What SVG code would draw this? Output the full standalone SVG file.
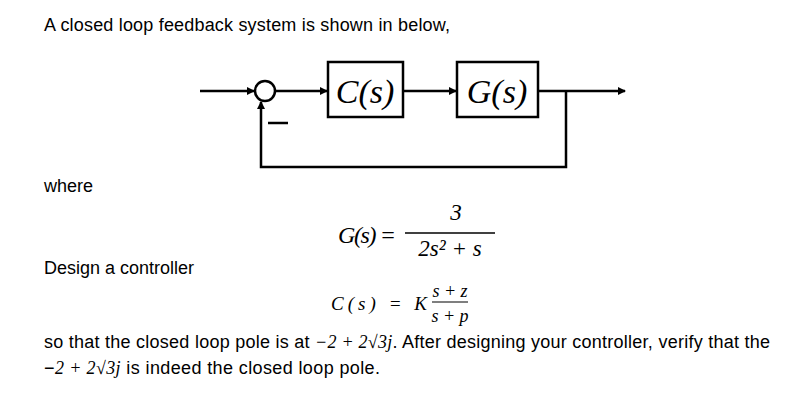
<svg xmlns="http://www.w3.org/2000/svg" width="797" height="413" viewBox="0 0 797 413">
<style>
.t{font-family:"Liberation Sans",Arial,sans-serif;font-size:18px;fill:#000}
.m{font-family:"Liberation Serif","Times New Roman",serif;font-style:italic;fill:#000}
.b{fill:#fff;stroke:#000;stroke-width:2.5}
.l{fill:none;stroke:#000;stroke-width:2.5}
</style>
<defs><marker id="a" markerWidth="8" markerHeight="8" refX="7" refY="4" orient="auto" markerUnits="userSpaceOnUse"><path d="M0,0L8,4L0,8z"/></marker></defs>
<rect width="797" height="413" fill="#fff"/>
<text class="t" x="44" y="31" textLength="406">A closed loop feedback system is shown in below,</text>
<g id="sum"><circle cx="265" cy="91" r="10" class="b"/></g>
<g id="C"><rect x="328" y="62" width="75" height="55" class="b"/><text class="m" x="365" y="103" font-size="34" text-anchor="middle">C(s)</text></g>
<g id="G"><rect x="457" y="62" width="81" height="55" class="b"/><text class="m" x="497" y="103" font-size="34" text-anchor="middle">G(s)</text></g>
<g id="connectors">
<path class="l" d="M200,91H254" marker-end="url(#a)"/>
<path class="l" d="M275,91H327" marker-end="url(#a)"/>
<path class="l" d="M403,91H456" marker-end="url(#a)"/>
<path class="l" d="M538,91H625" marker-end="url(#a)"/>
<path class="l" d="M566,91V167H261V102" marker-end="url(#a)"/>
<path class="l" d="M268,123H288"/>
</g>
<text class="t" x="44" y="192">where</text>
<text class="m" x="338" y="243" font-size="24" textLength="58">G(s) =</text>
<text class="m" x="456" y="220" font-size="23" font-style="normal" text-anchor="middle">3</text>
<line x1="405" y1="233" x2="495" y2="233" stroke="#000" stroke-width="1.3"/>
<text class="m" x="450" y="256" font-size="23" text-anchor="middle">2s² + s</text>
<text class="t" x="44" y="274">Design a controller</text>
<text class="m" x="331" y="310" font-size="19" textLength="96">C(s) = K</text>
<text class="m" x="450" y="297" font-size="18" text-anchor="middle">s + z</text>
<line x1="432" y1="302" x2="468" y2="302" stroke="#000" stroke-width="1.2"/>
<text class="m" x="450" y="322" font-size="18" text-anchor="middle">s + p</text>
<text class="t" x="44" y="348" textLength="726">so that the closed loop pole is at <tspan class="m">−2 + 2√3j</tspan>. After designing your controller, verify that the</text>
<text class="t" x="44" y="374" textLength="336">−<tspan class="m">2 + 2√3j</tspan> is indeed the closed loop pole.</text>
</svg>
